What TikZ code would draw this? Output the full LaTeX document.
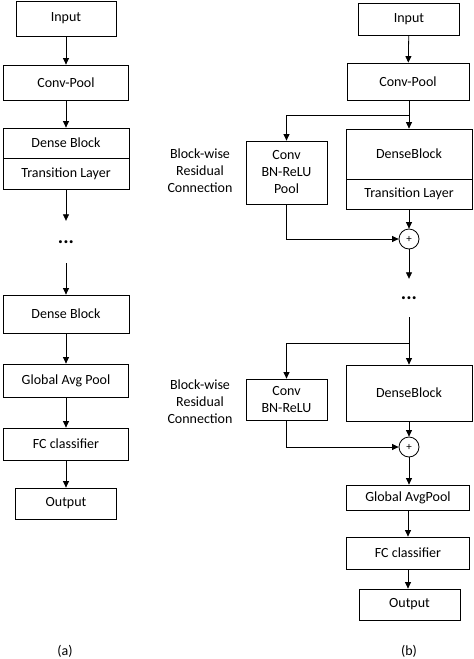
\documentclass[tikz,border=0pt]{standalone}
\usepackage{fontspec}
\setmainfont{Carlito}
\usetikzlibrary{arrows.meta}

\begin{document}
\begin{tikzpicture}[x=1pt, y=-1pt,
		box/.style={draw, line width=0.8pt, inner sep=0pt, align=center, font=\fontsize{14}{17}\selectfont},
		arr/.style={-{Triangle[length=6.5pt, width=6pt]}, line width=0.8pt},
		wire/.style={line width=0.8pt},
		addnode/.style={draw, circle, line width=0.8pt, minimum size=20pt, inner sep=0pt, font=\fontsize{11}{11}\selectfont},
		dotnode/.style={inner sep=0pt, font=\fontsize{20}{20}\bfseries},
		lbl/.style={align=center, font=\fontsize{14}{17}\selectfont}]
	\useasboundingbox (0,0) rectangle (474,659);
	% (a) plain network
	\node[box, minimum width=100pt, minimum height=35pt] (inA) at (66,18.5) {Input};
	\node[box, minimum width=125pt, minimum height=35pt] (cpA) at (66,82.5) {Conv-Pool};
	\node[box, minimum width=126pt, minimum height=30pt] (dbA) at (66,143) {Dense Block};
	\node[box, minimum width=126pt, minimum height=31pt] (trA) at (66,173.5) {Transition Layer};
	\node[dotnode, minimum height=42pt] (dotsA) at (66,242) {...};
	\node[box, minimum width=126pt, minimum height=38pt] (db2A) at (66,314) {Dense Block};
	\node[box, minimum width=125pt, minimum height=33pt] (gapA) at (66,380.5) {Global Avg Pool};
	\node[box, minimum width=125pt, minimum height=32pt] (fcA) at (66,444) {FC classifier};
	\node[box, minimum width=101pt, minimum height=31pt] (outA) at (66,503.5) {Output};
	\draw[arr] (inA) -- (cpA);
	\draw[arr] (cpA) -- (dbA);
	\draw[arr] (trA) -- (dotsA);
	\draw[arr] (dotsA) -- (db2A);
	\draw[arr] (db2A) -- (gapA);
	\draw[arr] (gapA) -- (fcA);
	\draw[arr] (fcA) -- (outA);
	\node[lbl] (capA) at (65,651) {(a)};
	% (b) with block-wise residual connections
	\node[box, minimum width=101pt, minimum height=32pt] (inB) at (409,19) {Input};
	\node[box, minimum width=122pt, minimum height=37pt] (cpB) at (408,81.5) {Conv-Pool};
	\coordinate (sp1) at (409,115);
	\node[box, minimum width=126pt, minimum height=50pt] (dbB) at (409,154) {DenseBlock};
	\node[box, minimum width=126pt, minimum height=30pt] (trB) at (409,194) {Transition Layer};
	\node[box, minimum width=81pt, minimum height=63pt] (convB) at (286.5,172.5) {Conv\\BN-ReLU\\Pool};
	\node[addnode] (addB) at (409,239) {+};
	\node[dotnode, minimum height=38pt] (dotsB) at (409,298) {...};
	\coordinate (sp2) at (409,343);
	\node[box, minimum width=126pt, minimum height=56pt] (db2B) at (409,393) {DenseBlock};
	\node[box, minimum width=81pt, minimum height=41pt] (conv2B) at (286.5,399.5) {Conv\\BN-ReLU};
	\node[addnode] (add2B) at (409,447) {+};
	\node[box, minimum width=123pt, minimum height=25pt] (gapB) at (408,497.5) {Global AvgPool};
	\node[box, minimum width=123pt, minimum height=32pt] (fcB) at (408,553) {FC classifier};
	\node[box, minimum width=101pt, minimum height=31pt] (outB) at (409.5,604.5) {Output};
	\draw[arr] (inB) -- (cpB);
	\draw[wire] (cpB.south -| sp1) -- (sp1);
	\draw[arr] (sp1) -- (dbB.north -| sp1);
	\draw[arr] (sp1) -| (convB.north);
	\draw[arr] (trB.south -| addB) -- (addB);
	\draw[arr] (convB.south) |- (addB.west);
	\draw[arr] (addB) -- (dotsB);
	\draw[wire] (dotsB) -- (sp2);
	\draw[arr] (sp2) -- (db2B.north -| sp2);
	\draw[arr] (sp2) -| (conv2B.north);
	\draw[arr] (db2B.south -| add2B) -- (add2B);
	\draw[arr] (conv2B.south) |- (add2B.west);
	\draw[arr] (add2B) -- (gapB.north -| add2B);
	\draw[arr] (gapB) -- (fcB);
	\draw[arr] (fcB) -- (outB.north -| fcB);
	\node[lbl] (resB) at (200,171) {Block-wise\\Residual\\Connection};
	\node[lbl] (res2B) at (200,402) {Block-wise\\Residual\\Connection};
	\node[lbl] (capB) at (409,651) {(b)};
\end{tikzpicture}
\end{document}
